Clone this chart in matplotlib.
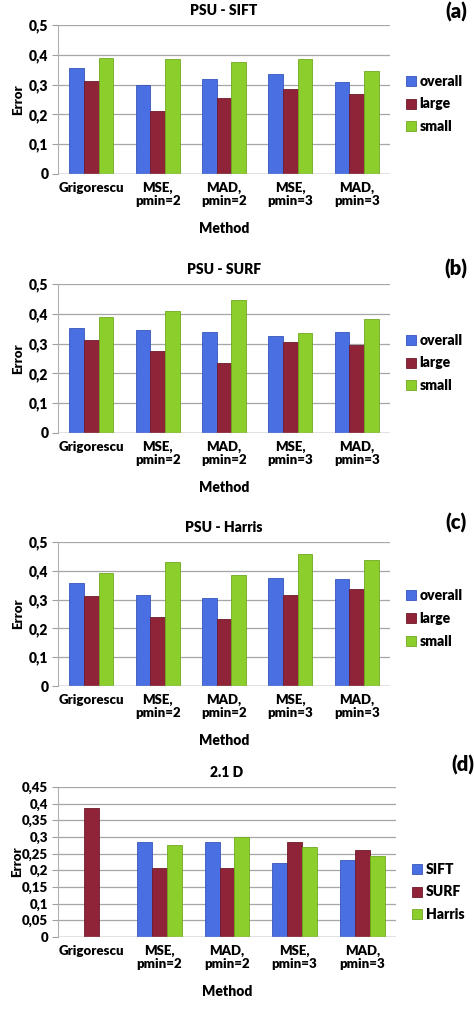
import numpy as np
import matplotlib
matplotlib.use('Agg')
import matplotlib.pyplot as plt

plt.rcParams['font.family'] = ['Lato', 'DejaVu Sans']
plt.rcParams['font.weight'] = 'heavy'

methods = ['Grigorescu', 'MSE,\npmin=2', 'MAD,\npmin=2', 'MSE,\npmin=3', 'MAD,\npmin=3']

# panels a-c: overall / large / small
sift_overall = [0.356, 0.299, 0.318, 0.337, 0.310]
sift_large = [0.312, 0.213, 0.256, 0.284, 0.270]
sift_small = [0.390, 0.385, 0.375, 0.387, 0.346]

surf_overall = [0.354, 0.344, 0.340, 0.325, 0.340]
surf_large = [0.311, 0.275, 0.234, 0.307, 0.294]
surf_small = [0.389, 0.408, 0.446, 0.336, 0.382]

harris_overall = [0.357, 0.317, 0.304, 0.375, 0.373]
harris_large = [0.312, 0.240, 0.234, 0.315, 0.337]
harris_small = [0.391, 0.429, 0.384, 0.457, 0.437]

# panel d: 2.1 D (Grigorescu only has SURF)
d_sift = [np.nan, 0.284, 0.286, 0.223, 0.231]
d_surf = [0.387, 0.208, 0.207, 0.286, 0.262]
d_harris = [np.nan, 0.275, 0.300, 0.270, 0.244]

colors = ['#4a6fe3', '#8f2337', '#8ccf2c']
edges = ['#3656b8', '#6e1a2a', '#6fa81f']

W, H = 474, 1010
fig = plt.figure(figsize=(W / 100, H / 100), dpi=100)


def px_axes(left, top, right, bottom):
    return fig.add_axes([left / W, 1 - bottom / H, (right - left) / W, (bottom - top) / H])


def comma(t):
    s = ('%.2f' % t).rstrip('0').rstrip('.')
    return s.replace('.', ',')


def draw(ax, title, tag, series, labels, ymax, step, legend_y, hpx, tag_up):
    x = np.arange(len(methods))
    w = 0.22
    for i, (vals, lab) in enumerate(zip(series, labels)):
        ax.bar(x + (i - 1) * w, vals, w, color=colors[i], edgecolor=edges[i],
               linewidth=0.6, label=lab, zorder=3)
    ax.set_xlim(-0.5, len(methods) - 0.5)
    ax.set_ylim(0, ymax)
    ticks = np.arange(0, ymax + step / 2, step)
    ax.set_yticks(ticks)
    ax.set_yticklabels([comma(t) for t in ticks], fontsize=10, fontweight='heavy')
    ax.set_xticks(x)
    ax.set_xticklabels(methods, fontsize=9.5, fontweight='heavy', linespacing=1.05)
    ax.yaxis.grid(True, color='#a6a6a6', linewidth=0.9, zorder=0)
    for s in ['top', 'right', 'bottom']:
        ax.spines[s].set_visible(False)
    ax.spines['left'].set_color('#b0b0b0')
    ax.axhline(0, color='#a0a0a0', linewidth=1.0, zorder=4)
    ax.tick_params(axis='x', length=0, pad=6)
    ax.tick_params(axis='y', length=4, color='#a0a0a0', pad=3)
    ax.set_title(title, fontsize=10, fontweight='heavy', pad=7)
    ax.set_xlabel('Method', fontsize=10, fontweight='heavy')
    ax.xaxis.set_label_coords(0.5, -48 / hpx)
    ax.set_ylabel('Error', fontsize=9.5, fontweight='heavy')
    ax.yaxis.set_label_coords(-34 / 332, 0.5)
    ax.legend(loc='center left', bbox_to_anchor=(1.03, legend_y), frameon=False,
              prop={'size': 10, 'weight': 'heavy'},
              handlelength=0.75, handleheight=0.75, handletextpad=0.25,
              labelspacing=0.7, borderaxespad=0)
    ax.text(1.232, 1 + tag_up / hpx, tag, transform=ax.transAxes, fontsize=14.5,
            fontweight='heavy', ha='right', va='center')


ax1 = px_axes(58, 25, 390, 174)
draw(ax1, 'PSU - SIFT', '(a)', [sift_overall, sift_large, sift_small],
     ['overall', 'large', 'small'], 0.5, 0.1, 0.47, 149, 13)

ax2 = px_axes(58, 284, 390, 433)
draw(ax2, 'PSU - SURF', '(b)', [surf_overall, surf_large, surf_small],
     ['overall', 'large', 'small'], 0.5, 0.1, 0.47, 149, 15)

ax3 = px_axes(58, 542, 390, 686)
draw(ax3, 'PSU - Harris', '(c)', [harris_overall, harris_large, harris_small],
     ['overall', 'large', 'small'], 0.5, 0.1, 0.47, 144, 19)

ax4 = px_axes(58, 787, 396, 937)
draw(ax4, '2.1 D', '(d)', [d_sift, d_surf, d_harris],
     ['SIFT', 'SURF', 'Harris'], 0.45, 0.05, 0.30, 150, 22)
ax4.set_yticklabels([comma(t) for t in ax4.get_yticks()], fontsize=9.5, fontweight='heavy')

fig.savefig('out.png', dpi=100)
